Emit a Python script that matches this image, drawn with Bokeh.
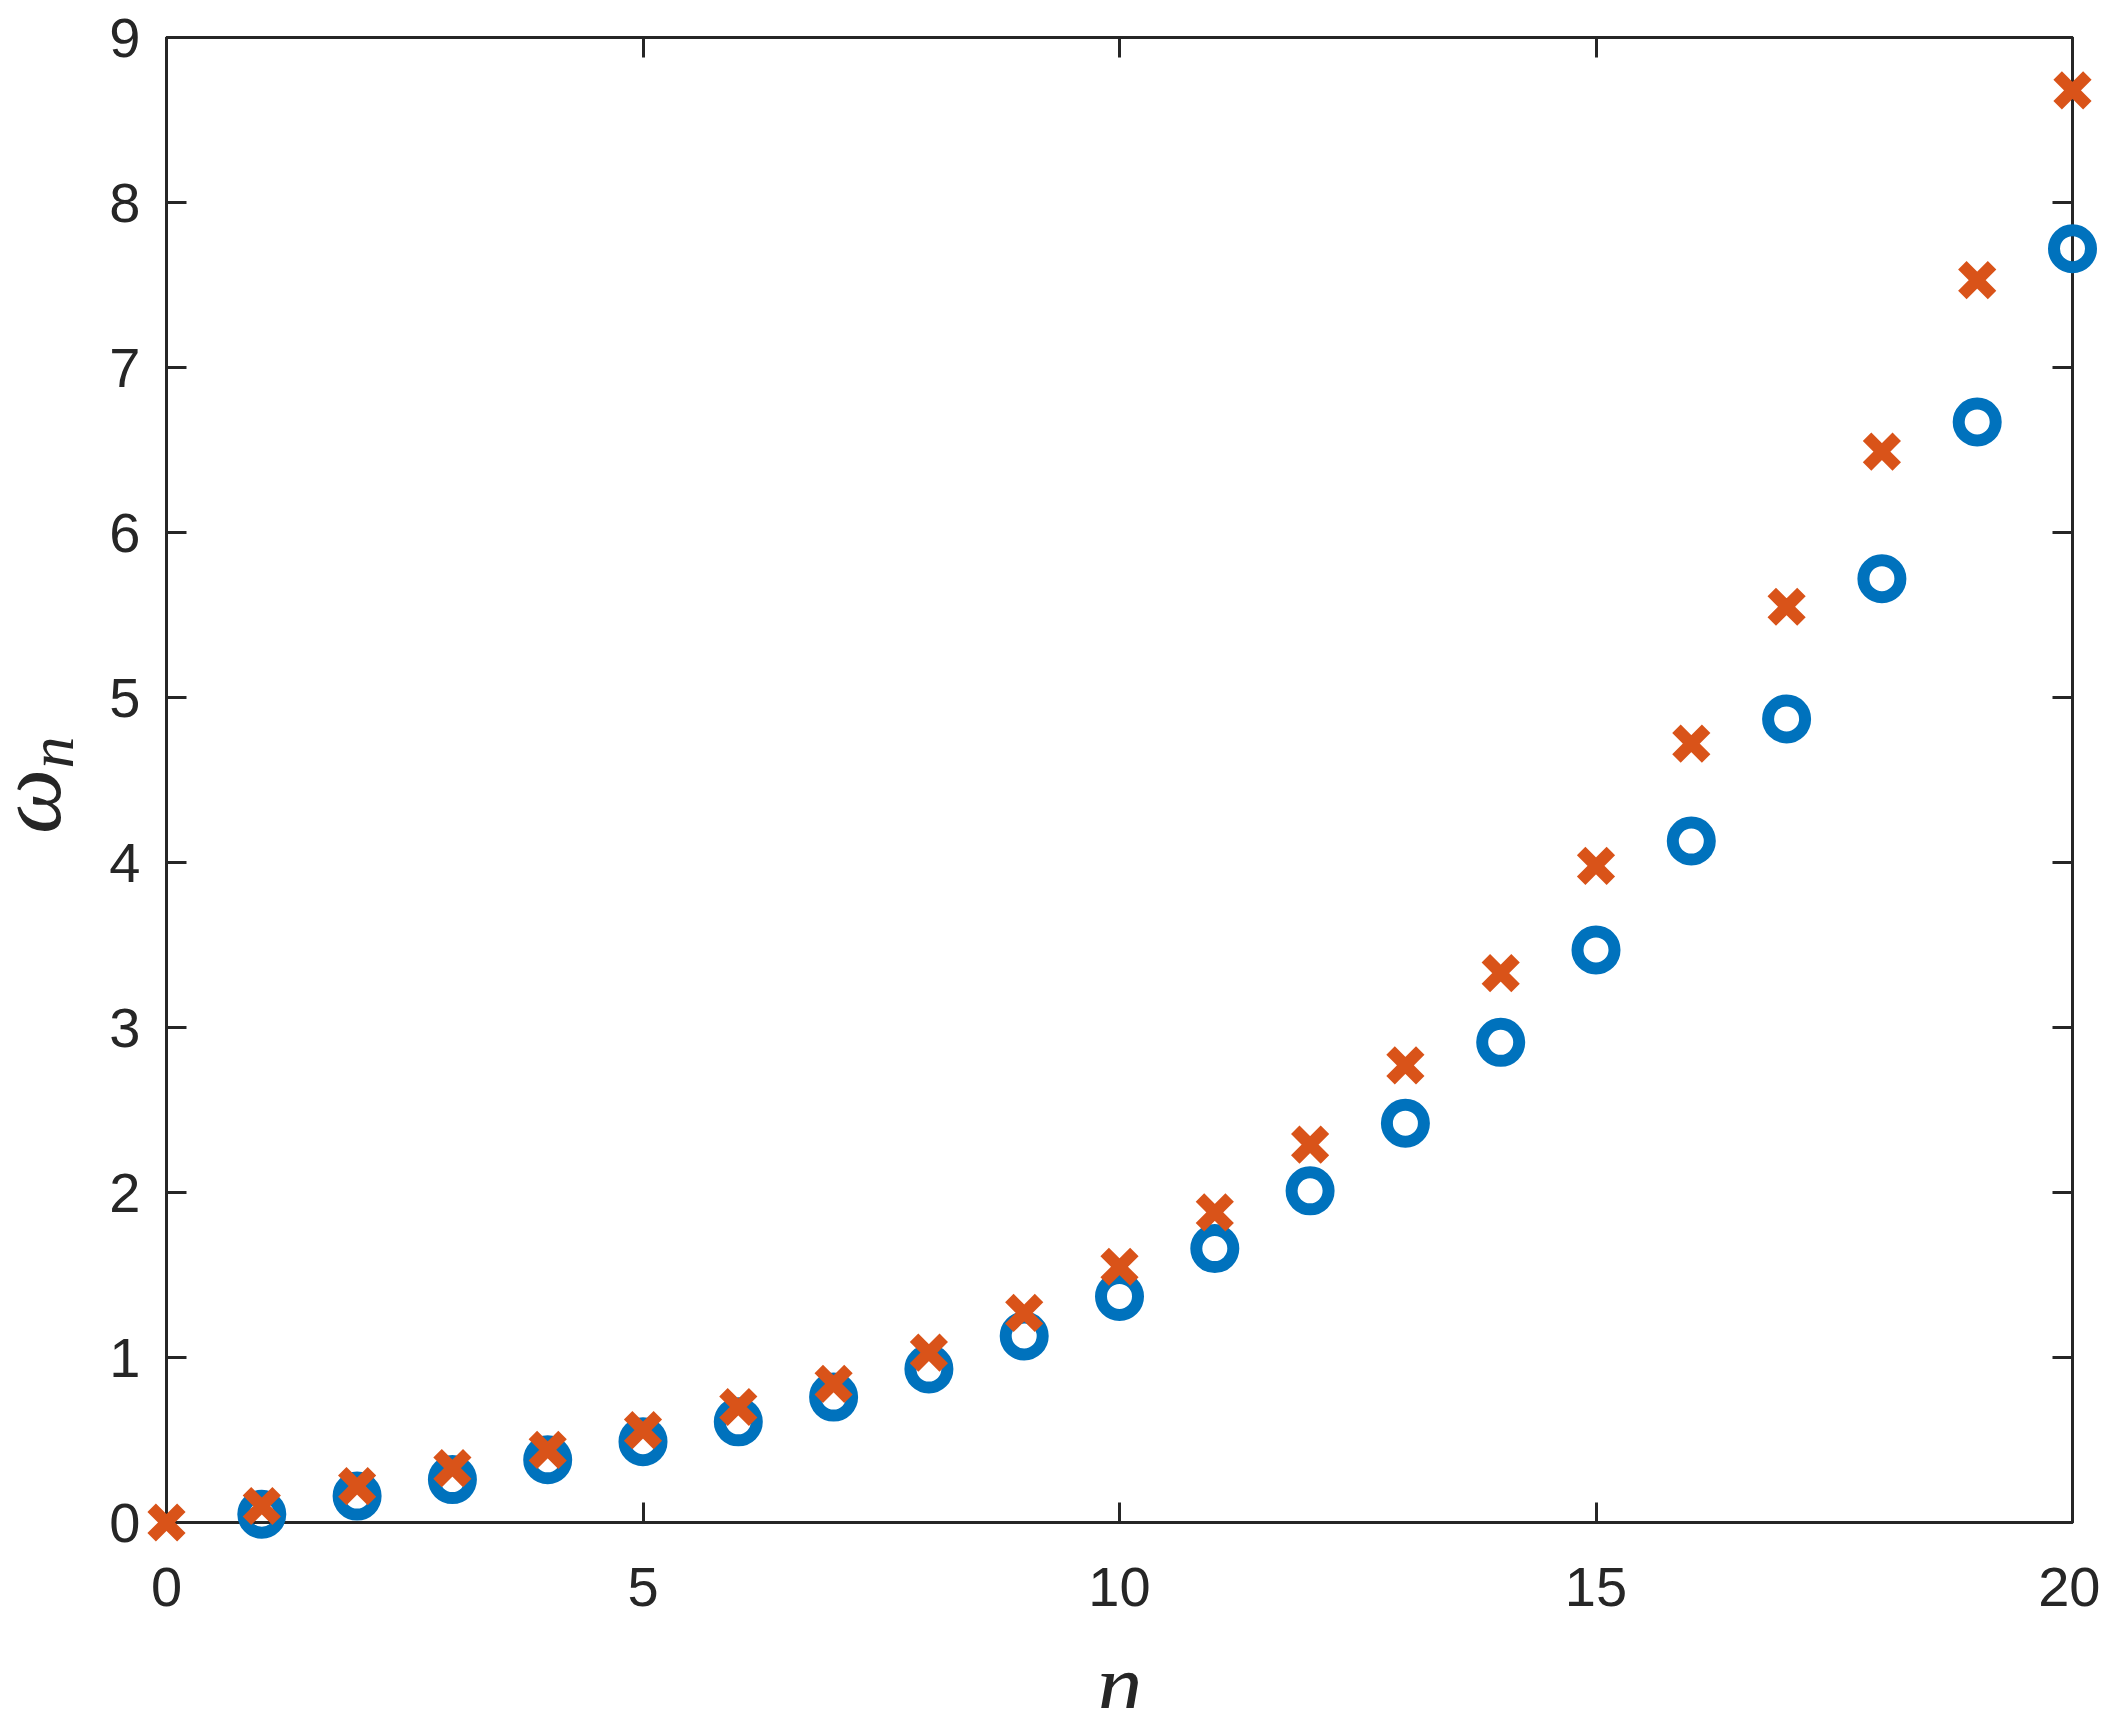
import math
from bokeh.plotting import figure
from bokeh.models import Range1d, FixedTicker, LinearAxis
from bokeh.core.properties import value
from bokeh.embed import file_html
from bokeh.resources import INLINE

# data
n_circle = list(range(1, 21))
omega_circle = [0.05, 0.16, 0.26, 0.38, 0.49, 0.61, 0.76, 0.93, 1.13, 1.37,
                1.66, 2.01, 2.42, 2.91, 3.47, 4.13, 4.87, 5.72, 6.67, 7.72]
n_cross = list(range(0, 21))
omega_cross = [0.0, 0.10, 0.22, 0.33, 0.44, 0.56, 0.70, 0.84, 1.03, 1.27, 1.55,
               1.88, 2.29, 2.77, 3.33, 3.98, 4.72, 5.55, 6.49, 7.53, 8.68]
x_ticks = [0, 5, 10, 15, 20]
y_ticks = list(range(0, 10))
x_label = "n"
y_label_main = "\u03c9"
y_label_sub = "n"

AX = "#262626"
W, H = 2100, 1708
FL, FR, FT, FB = 166, 2072, 37, 1522   # frame edges in page pixels
X0, X1, Y0, Y1 = 0, 20, 0, 9

p = figure(width=W, height=H, output_backend="svg", toolbar_location=None,
           x_range=Range1d(X0, X1), y_range=Range1d(Y0, Y1),
           min_border_left=FL, min_border_top=FT, min_border_right=W - FR,
           min_border_bottom=H - FB)
p.grid.visible = False
p.outline_line_color = AX
p.outline_line_width = 3
p.background_fill_color = "white"
p.border_fill_color = "white"

for ax, ticks in ((p.xaxis[0], x_ticks), (p.yaxis[0], y_ticks)):
    ax.ticker = FixedTicker(ticks=ticks)
    ax.axis_line_color = AX
    ax.axis_line_width = 3
    ax.major_tick_line_color = AX
    ax.major_tick_line_width = 3
    ax.major_tick_in = 20
    ax.major_tick_out = 0
    ax.minor_tick_line_color = None
    ax.major_label_text_font = "Liberation Sans"
    ax.major_label_text_font_size = "56px"
    ax.major_label_text_color = AX

p.xaxis[0].major_label_standoff = 45
p.yaxis[0].major_label_standoff = 26

for loc, ticks in (("above", x_ticks), ("right", y_ticks)):
    a = LinearAxis(ticker=FixedTicker(ticks=ticks))
    a.axis_line_color = AX
    a.axis_line_width = 3
    a.major_tick_line_color = AX
    a.major_tick_line_width = 3
    a.major_tick_in = 20
    a.major_tick_out = 0
    a.minor_tick_line_color = None
    a.major_label_text_color = None
    a.major_label_standoff = 0
    p.add_layout(a, loc)

p.scatter(n_circle, omega_circle, marker="circle", size=37, fill_color=None,
          line_color="#0072BD", line_width=12, level="overlay")
p.scatter(n_cross, omega_cross, marker="x", size=42, line_color="#D95319",
          line_width=12, level="overlay")

# axis titles (math-style italic), placed outside the frame
px_x = (FR - FL) / (X1 - X0)   # pixels per x unit
px_y = (FB - FT) / (Y1 - Y0)   # pixels per y unit
common = dict(text_align="center", text_baseline="middle",
              text_font=value("Liberation Serif"), text_font_style="italic",
              text_color=AX, level="overlay")
p.text(x=[(X0 + X1) / 2], y=[Y0 - 162 / px_y], text=[x_label],
       text_font_size="92px", **common)
p.text(x=[X0 - 138 / px_x], y=[Y0 + (FB - 801) / px_y], text=[y_label_main],
       angle=math.pi / 2, text_font_size="92px", **common)
p.text(x=[X0 - 115 / px_x], y=[Y0 + (FB - 752) / px_y], text=[y_label_sub],
       angle=math.pi / 2, text_font_size="64px", **common)

open("out.html", "w").write(file_html(p, INLINE))
